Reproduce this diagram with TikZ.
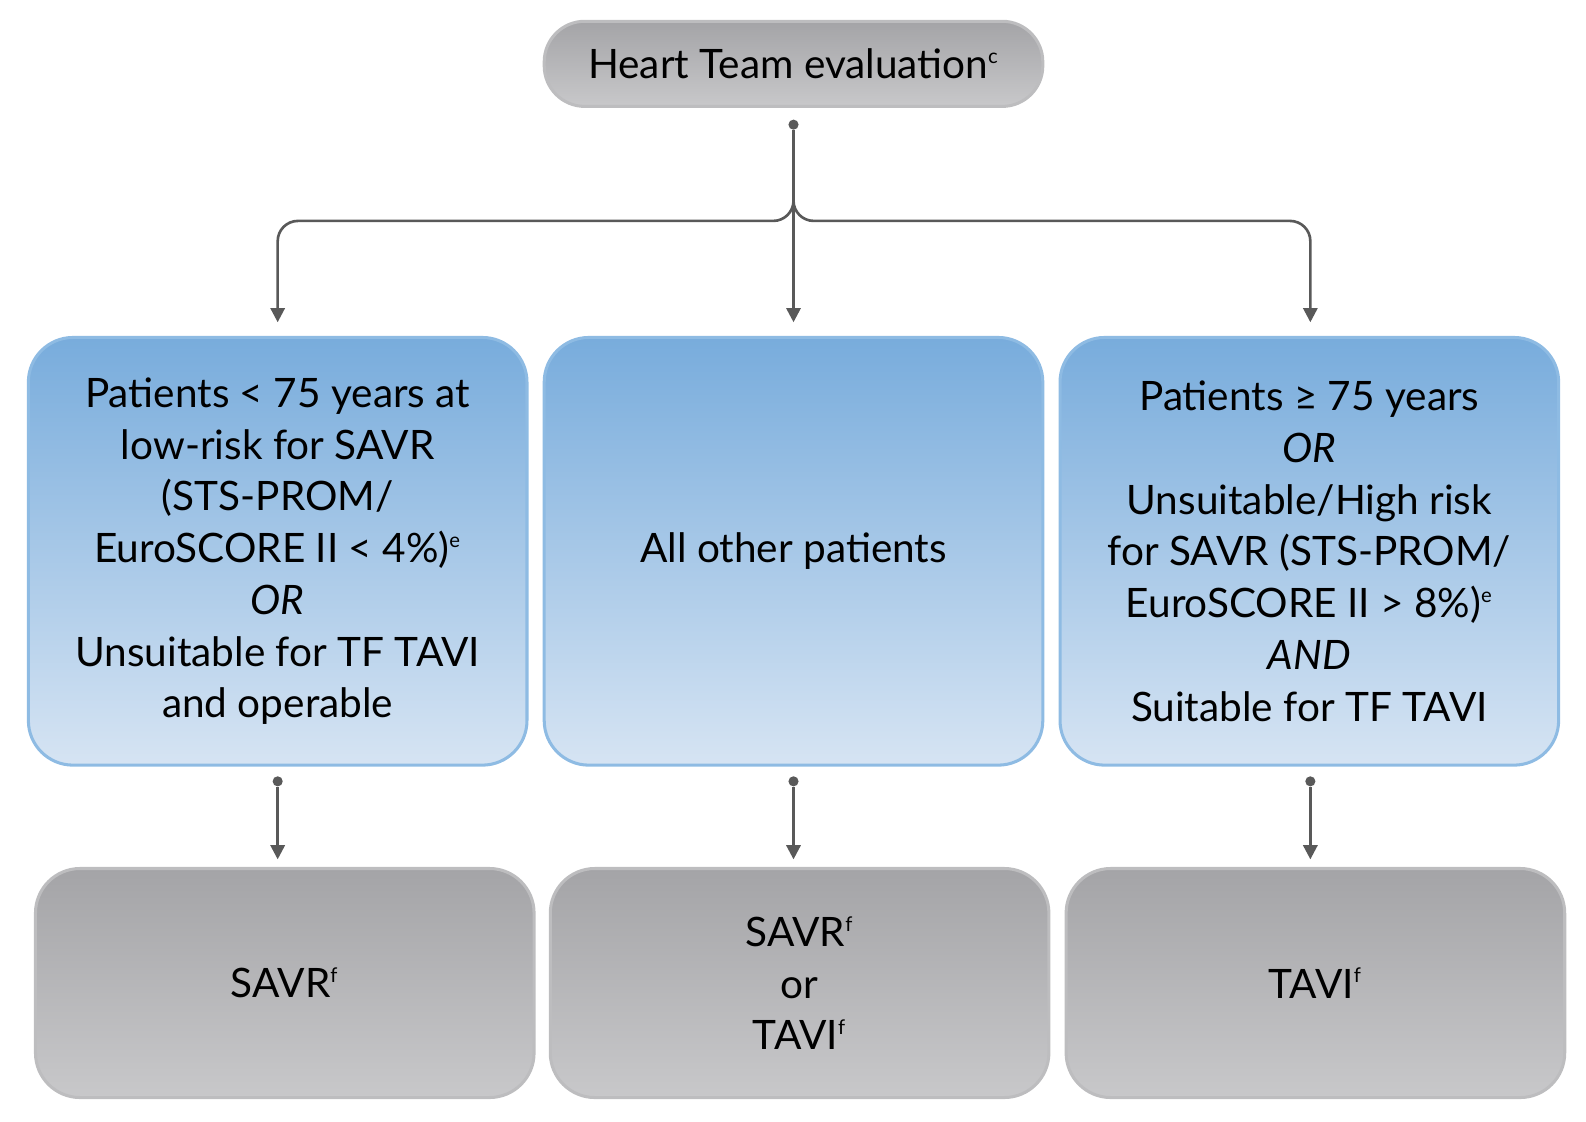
\documentclass[tikz,border=0pt]{standalone}
\usepackage{fontspec}
\setmainfont{Lato}
\usetikzlibrary{arrows.meta}
\definecolor{bluetop}{HTML}{78ACDC}
\definecolor{bluebot}{HTML}{D6E4F3}
\definecolor{blueline}{HTML}{8EBBE3}
\definecolor{graytop}{HTML}{A4A4A7}
\definecolor{graybot}{HTML}{C8C8CA}
\definecolor{grayline}{HTML}{BDBDBF}
\definecolor{conn}{HTML}{595959}
\newcommand{\sups}[1]{\textsuperscript{\fontsize{10}{10}\selectfont #1}}
\begin{document}
\begin{tikzpicture}[x=0.5pt,y=-0.5pt,
  txt/.style={font=\fontsize{20}{25.5}\selectfont,align=center,text=black},
  bluebox/.style={draw=blueline,line width=1.5pt,rounded corners=22pt,top color=bluetop,bottom color=bluebot,minimum width=246pt,minimum height=211pt,txt},
  graybox/.style={draw=grayline,line width=1.5pt,rounded corners=22pt,top color=graytop,bottom color=graybot,minimum width=246pt,minimum height=113pt,txt},
  conn/.style={draw=conn,line width=1.3pt,-{Triangle[length=7pt,width=7pt]}},
  dot/.style={circle,fill=conn,inner sep=0pt,minimum size=5pt}]
\useasboundingbox (0,0) rectangle (1565,1107);
\node[draw=grayline,line width=1.5pt,rounded corners=20pt,top color=graytop,bottom color=graybot,minimum width=246pt,minimum height=42pt,txt] (top) at (783,63) {Heart Team evaluation\sups{c}};
\node[bluebox] (b1) at (274,544) {Patients < 75 years at\\low-risk for SAVR\\(STS-PROM/\\EuroSCORE II < 4\%)\sups{e}\\\textit{OR}\\Unsuitable for TF TAVI\\and operable};
\node[bluebox] (b2) at (783,544) {All other patients};
\node[bluebox] (b3) at (1292,544) {Patients ≥ 75 years\\\textit{OR}\\Unsuitable/High risk\\for SAVR (STS-PROM/\\EuroSCORE II > 8\%)\sups{e}\\\textit{AND}\\Suitable for TF TAVI};
\node[graybox] (g1) at (281,970) {SAVR\sups{f}};
\node[graybox] (g2) at (789,970) {SAVR\sups{f}\\or\\TAVI\sups{f}};
\node[graybox] (g3) at (1298,970) {TAVI\sups{f}};
\node[dot] (d0) at (783,123) {};
\coordinate (a1) at (274,318);
\coordinate (a2) at (783,318);
\coordinate (a3) at (1293,318);
\draw[conn] (d0) -- (a2);
\draw[conn,rounded corners=10pt] (d0) |- (274,218) -- (a1);
\draw[conn,rounded corners=10pt] (d0) |- (1293,218) -- (a3);
\foreach \x/\i in {274/1,783/2,1293/3}{
  \node[dot] (e\i) at (\x,771) {};
  \coordinate (f\i) at (\x,848);
  \draw[conn] (e\i) -- (f\i);
}
\end{tikzpicture}
\end{document}
